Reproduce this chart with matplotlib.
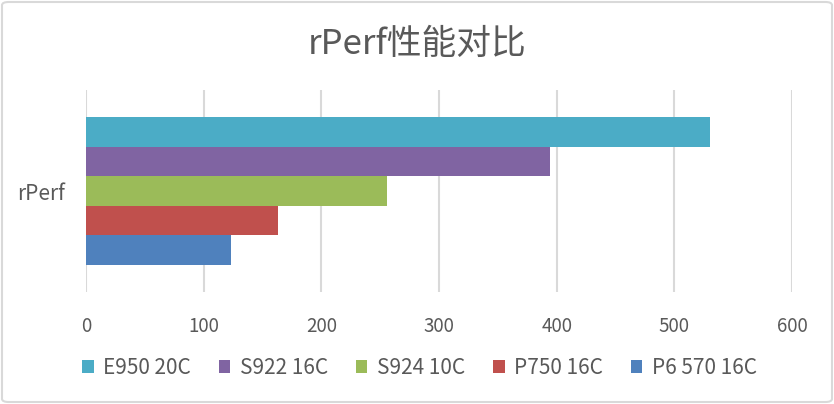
import matplotlib
matplotlib.use("Agg")
import matplotlib.pyplot as plt
from matplotlib.patches import FancyBboxPatch

plt.rcParams['font.family'] = ['Noto Sans CJK SC', 'DejaVu Sans']

title = "rPerf性能对比"
category = "rPerf"
series = ["E950 20C", "S922 16C", "S924 10C", "P750 16C", "P6 570 16C"]
values = [530, 394, 256, 163, 123]
colors = ["#4BACC6", "#8064A2", "#9BBB59", "#C0504D", "#4F81BD"]
xticks = [0, 100, 200, 300, 400, 500, 600]

text_color = "#595959"
grid_color = "#D9D9D9"

fig = plt.figure(figsize=(8.34, 4.04), dpi=100)
ax = fig.add_axes([86 / 834, 1 - 292 / 404, 706 / 834, 202 / 404])

# one category, five series stacked top to bottom
h = 0.733 / len(series)
for i, (name, v, c) in enumerate(zip(series, values, colors)):
    y = (2 - i) * h
    ax.barh(y, v, height=h, color=c, label=name, zorder=3)

ax.set_xlim(0, 600)
ax.set_ylim(-0.5, 0.5)
ax.set_xticks(xticks)
ax.set_yticks([0])
ax.set_yticklabels([category])
ax.grid(axis="x", color=grid_color, linewidth=1.5, zorder=0)
for s in ax.spines.values():
    s.set_visible(False)
ax.tick_params(axis="both", length=0, labelsize=13.5, colors=text_color)
ax.tick_params(axis="x", pad=17)
ax.tick_params(axis="y", pad=15)
ax.get_yticklabels()[0].set_fontsize(15)

fig.text(0.5, 1 - 44 / 404, title, ha="center", va="center",
         fontsize=25, color=text_color)

handles, labels = ax.get_legend_handles_labels()
leg = fig.legend(handles, labels, loc="center", ncol=5,
                 bbox_to_anchor=(0.503, 1 - 368 / 404), frameon=False,
                 fontsize=15, labelcolor=text_color,
                 handlelength=0.55, handleheight=0.55, handletextpad=0.45,
                 columnspacing=1.35)

# chart border
border = FancyBboxPatch((2 / 834, 2 / 404), 830 / 834, 400 / 404,
                        boxstyle="round,pad=0,rounding_size=0.008",
                        transform=fig.transFigure, fill=False,
                        edgecolor=grid_color, linewidth=1.5)
fig.patches.append(border)

fig.savefig("out.png", dpi=100)
